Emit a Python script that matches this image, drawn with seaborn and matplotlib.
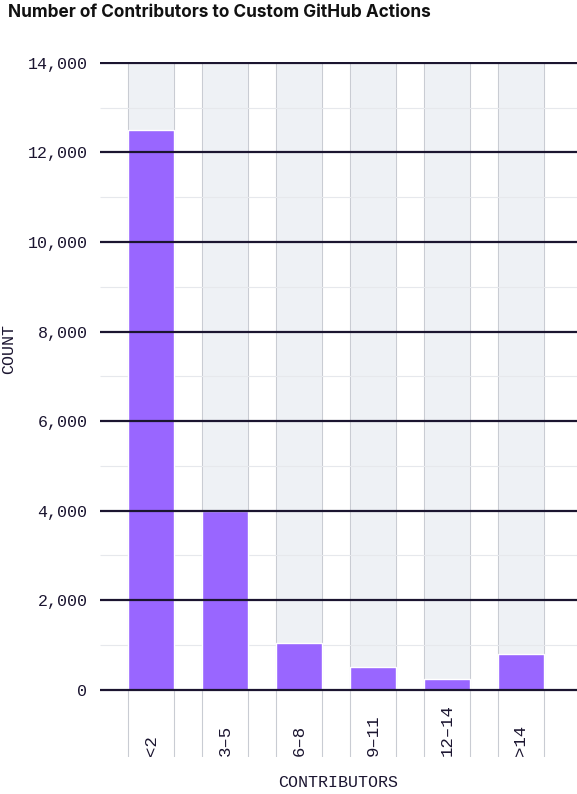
import matplotlib
matplotlib.use("Agg")
import matplotlib.pyplot as plt
import seaborn as sns

# data
categories = ["<2", "3–5", "6–8", "9–11", "12–14", ">14"]
counts = [12500, 4000, 1050, 500, 240, 800]
y_major = [0, 2000, 4000, 6000, 8000, 10000, 12000, 14000]
y_minor = [1000, 3000, 5000, 7000, 9000, 11000, 13000]

sns.set_theme(style="white")
plt.rcParams["font.family"] = ["Liberation Mono", "DejaVu Sans Mono"]

bar_color = "#9966ff"
band_color = "#eef1f5"
band_edge = "#c9ccd3"
grid_dark = "#1b1530"
width = 0.62
y_top = 14000
y_bottom = -1500

fig = plt.figure(figsize=(5.77, 7.94), dpi=100)
ax = fig.add_axes([100 / 577, 37 / 794, 477 / 577, 695 / 794])

# background bands behind each category
pos = list(range(len(categories)))
ax.bar(pos, [y_top] * len(pos), width=width, color=band_color, zorder=0)
for p in pos:
    ax.vlines([p - width / 2, p + width / 2], y_bottom, y_top, color=band_edge, lw=0.8, zorder=0.5)

# minor grid
ax.hlines(y_minor, -0.69, 5.76, color="#e6e8ec", lw=0.8, zorder=0.6)

sns.barplot(x=categories, y=counts, color=bar_color, width=width, saturation=1,
            ax=ax, zorder=1)

# major grid, drawn over the bars
ax.hlines(y_major, -0.69, 5.76, color=grid_dark, lw=1.6, zorder=3)

ax.set_xlim(-0.69, 5.76)
ax.set_ylim(y_bottom, y_top + 20)
for s in ax.spines.values():
    s.set_visible(False)

ax.set_yticks(y_major)
ax.set_yticklabels([f"{v:,}" for v in y_major], fontsize=12, color="#1b1530")
ax.tick_params(axis="y", length=0, pad=9)

ax.set_xticks(pos)
ax.set_xticklabels(categories, rotation=90, fontsize=12.5, color="#1b1530")
ax.tick_params(axis="x", length=0, pad=-1)
for lab in ax.get_xticklabels():
    lab.set_va("bottom")

ax.set_xlabel("CONTRIBUTORS", fontsize=12, color="#1b1530")
ax.xaxis.set_label_coords(0.5, -0.026)
ax.set_ylabel("COUNT", fontsize=12, color="#1b1530")
ax.yaxis.set_label_coords(-0.176, 0.587)

fig.text(8 / 577, 1 - 4 / 794, "Number of Contributors to Custom GitHub Actions",
         family=["Inter", "DejaVu Sans"], fontweight="bold", fontsize=12.4,
         color="#111111", ha="left", va="top")

fig.savefig("out.png", dpi=100)
